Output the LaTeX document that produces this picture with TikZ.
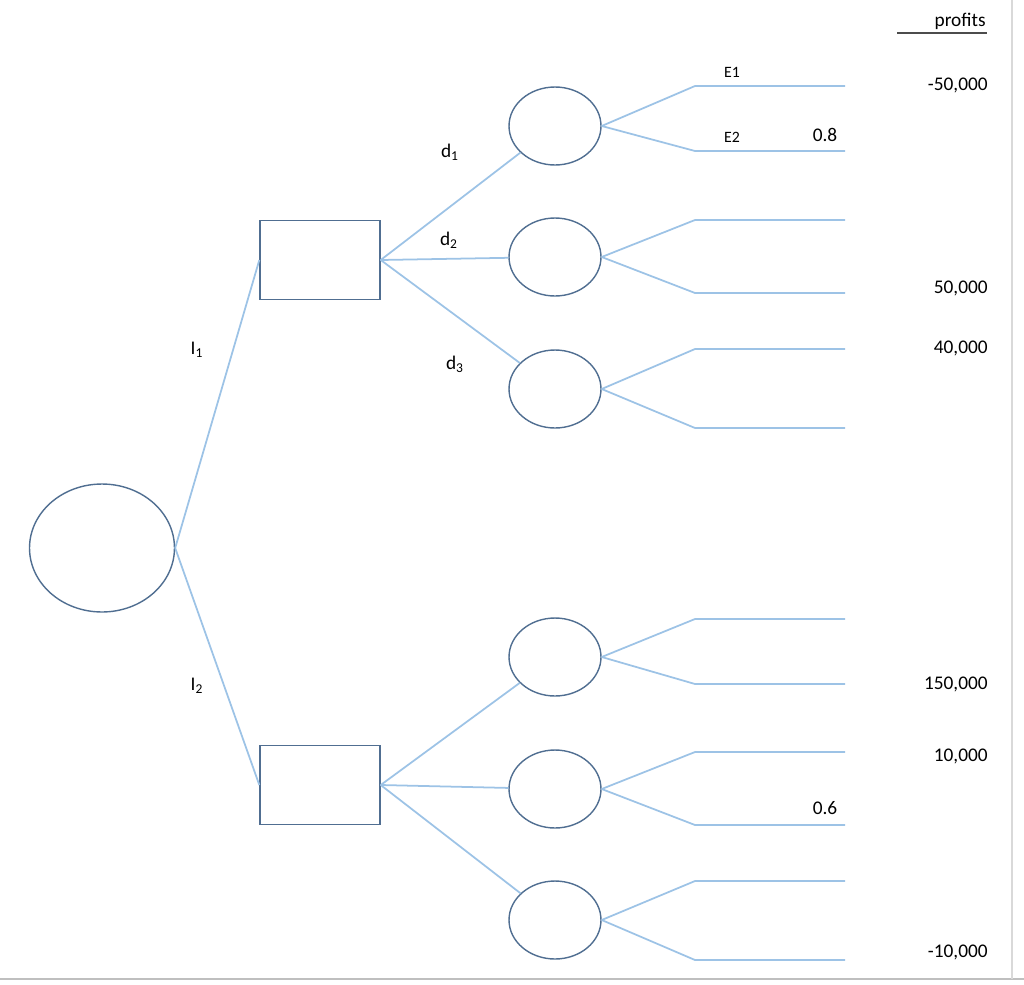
\documentclass[tikz,border=0pt]{standalone}
\usepackage{fontspec}
\setmainfont{Carlito}
\usetikzlibrary{shapes.geometric}
\definecolor{ln}{RGB}{157,195,230}
\definecolor{sh}{RGB}{80,110,145}
\begin{document}
\begin{tikzpicture}[x=0.02cm,y=-0.02cm,
  conn/.style={draw=ln,line width=1pt},
  dec/.style={rectangle,draw=sh,line width=0.8pt,minimum width=2.4cm,minimum height=1.58cm},
  lab/.style={font=\fontsize{11pt}{13pt}\selectfont,inner sep=0pt},
  vlab/.style={lab,anchor=east}]
\useasboundingbox (0,0) rectangle (1024,984);
\draw[gray!50,line width=1.5pt] (0,979) -- (1024,979);
\draw[gray!30,line width=1pt] (1012,0) -- (1012,979);
\node[ellipse,draw=sh,line width=0.8pt,minimum width=2.9cm,minimum height=2.56cm,inner sep=0pt] (root) at (102,548) {};
\node[dec] (r1) at (320,260) {};
\node[dec] (r2) at (320,785) {};
\draw[conn] (root.east) -- (r1.west);
\draw[conn] (root.east) -- (r2.west);
\node[lab] (i1) at (197,350) {I\textsubscript{1}};
\node[lab] (i2) at (197,686) {I\textsubscript{2}};
\foreach \n/\y/\r/\ua/\da in {c1/126/r1/86/151, c2/257/r1/220/293, c3/389/r1/349/428, c4/657/r2/619/684, c5/789/r2/752/825, c6/920/r2/881/960}{
  \node[ellipse,draw=sh,line width=0.8pt,minimum width=1.84cm,minimum height=1.56cm,inner sep=0pt] (\n) at (555,\y) {};
  \draw[conn] (\r.east) -- (\n);
  \coordinate (\n u) at (695,\ua); \coordinate (\n ue) at (845,\ua);
  \coordinate (\n d) at (695,\da); \coordinate (\n de) at (845,\da);
  \draw[conn] (\n.east) -- (\n u) -- (\n ue);
  \draw[conn] (\n.east) -- (\n d) -- (\n de);
}
\node[lab] (d1) at (450,152) {d\textsubscript{1}};
\node[lab] (d2) at (449,240) {d\textsubscript{2}};
\node[lab] (d3) at (455,364) {d\textsubscript{3}};
\node[lab,font=\fontsize{9pt}{10pt}\selectfont] (e1) at (732,72) {E1};
\node[lab,font=\fontsize{9pt}{10pt}\selectfont] (e2) at (732,137) {E2};
\node[lab] (p8) at (825,135) {0.8};
\node[lab] (p6) at (825,808) {0.6};
\node[vlab] (v1) at (988,85) {-50,000};
\node[vlab] (v2) at (988,288) {50,000};
\node[vlab] (v3) at (988,348) {40,000};
\node[vlab] (v4) at (988,684) {150,000};
\node[vlab] (v5) at (988,756) {10,000};
\node[vlab] (v6) at (988,952) {-10,000};
\node[vlab] (pf) at (986,21) {profits};
\draw[black!70,line width=0.6pt] (897,33) -- (987,33);
\end{tikzpicture}
\end{document}
